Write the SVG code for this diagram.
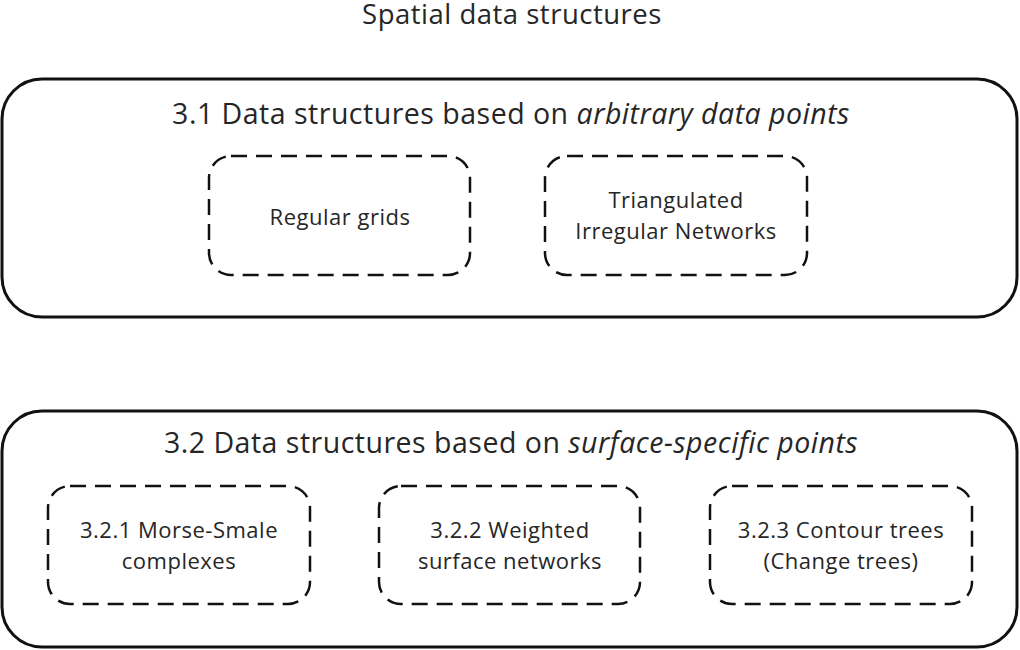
<svg xmlns="http://www.w3.org/2000/svg" width="1020" height="650" viewBox="0 0 1020 650">
<style>
text{font-family:"Open Sans","Noto Sans","Liberation Sans",sans-serif;fill:#262626;text-anchor:middle;letter-spacing:0.5px}
.outer{fill:#fff;stroke:#111;stroke-width:3}
.inner{fill:#fff;stroke:#111;stroke-width:2.5;stroke-dasharray:16 9}
.t1{font-size:27.5px}
.t2{font-size:28.5px}
.t3{font-size:22px}
</style>
<rect width="1020" height="650" fill="#fff"/>
<text class="t1" x="512" y="24">Spatial data structures</text>
<g id="group31">
<rect class="outer" x="2" y="79" width="1015" height="238" rx="40"/>
<text class="t2" x="511" y="124">3.1 Data structures based on <tspan font-style="italic">arbitrary data points</tspan></text>
</g>
<g id="regular-grids">
<rect class="inner" x="209" y="156" width="261" height="119" rx="22"/>
<text class="t3" x="340" y="225">Regular grids</text>
</g>
<g id="tin">
<rect class="inner" x="545" y="156" width="262" height="119" rx="22"/>
<text class="t3" x="676" y="208">Triangulated</text>
<text class="t3" x="676" y="239">Irregular Networks</text>
</g>
<g id="group32">
<rect class="outer" x="2" y="411" width="1015" height="236" rx="40"/>
<text class="t2" x="511" y="453">3.2 Data structures based on <tspan font-style="italic">surface-specific points</tspan></text>
</g>
<g id="morse-smale">
<rect class="inner" x="48" y="486" width="262" height="118" rx="22"/>
<text class="t3" x="179" y="538">3.2.1 Morse-Smale</text>
<text class="t3" x="179" y="569">complexes</text>
</g>
<g id="weighted">
<rect class="inner" x="379" y="486" width="261" height="118" rx="22"/>
<text class="t3" x="510" y="538">3.2.2 Weighted</text>
<text class="t3" x="510" y="569">surface networks</text>
</g>
<g id="contour">
<rect class="inner" x="710" y="486" width="262" height="118" rx="22"/>
<text class="t3" x="841" y="538">3.2.3 Contour trees</text>
<text class="t3" x="841" y="569">(Change trees)</text>
</g>
<g id="connectors"/>
</svg>
